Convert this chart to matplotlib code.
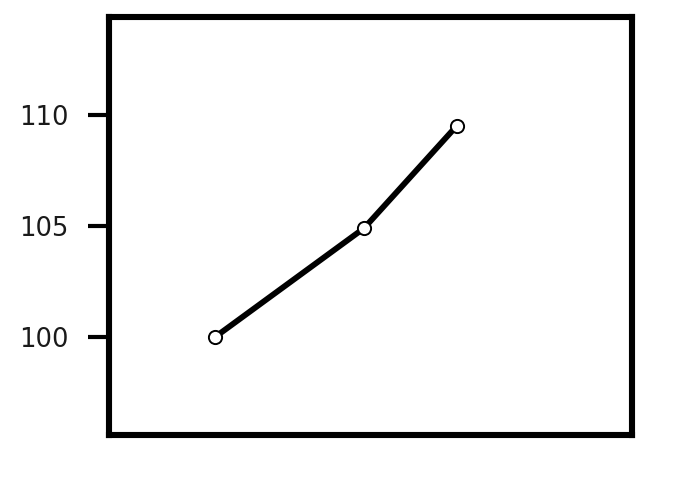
import matplotlib
matplotlib.use("Agg")
import matplotlib.pyplot as plt

x_values = [2.03, 4.88, 6.65]
y_values = [100.0, 104.9, 109.5]
y_ticks = [100, 105, 110]
y_tick_labels = ["100", "105", "110"]

fig = plt.figure(figsize=(6.98, 5.0), dpi=100)
ax = fig.add_axes([0.156, 0.13, 0.749, 0.836])

ax.plot(x_values, y_values, color="black", linewidth=4.2, solid_capstyle="round",
        marker="o", markersize=9.5, markerfacecolor="white", markeredgecolor="black",
        markeredgewidth=1.4, zorder=3)

ax.set_xlim(0, 10)
ax.set_ylim(95.59, 114.41)
ax.set_xticks([])
ax.set_yticks(y_ticks)
ax.set_yticklabels(y_tick_labels)
ax.tick_params(axis="y", direction="out", length=15, width=3, pad=14,
               labelsize=18.5, labelcolor="#1a1a1a", color="black")

for s in ax.spines.values():
    s.set_linewidth(4.4)
    s.set_color("black")

fig.savefig("out.png", dpi=100)
